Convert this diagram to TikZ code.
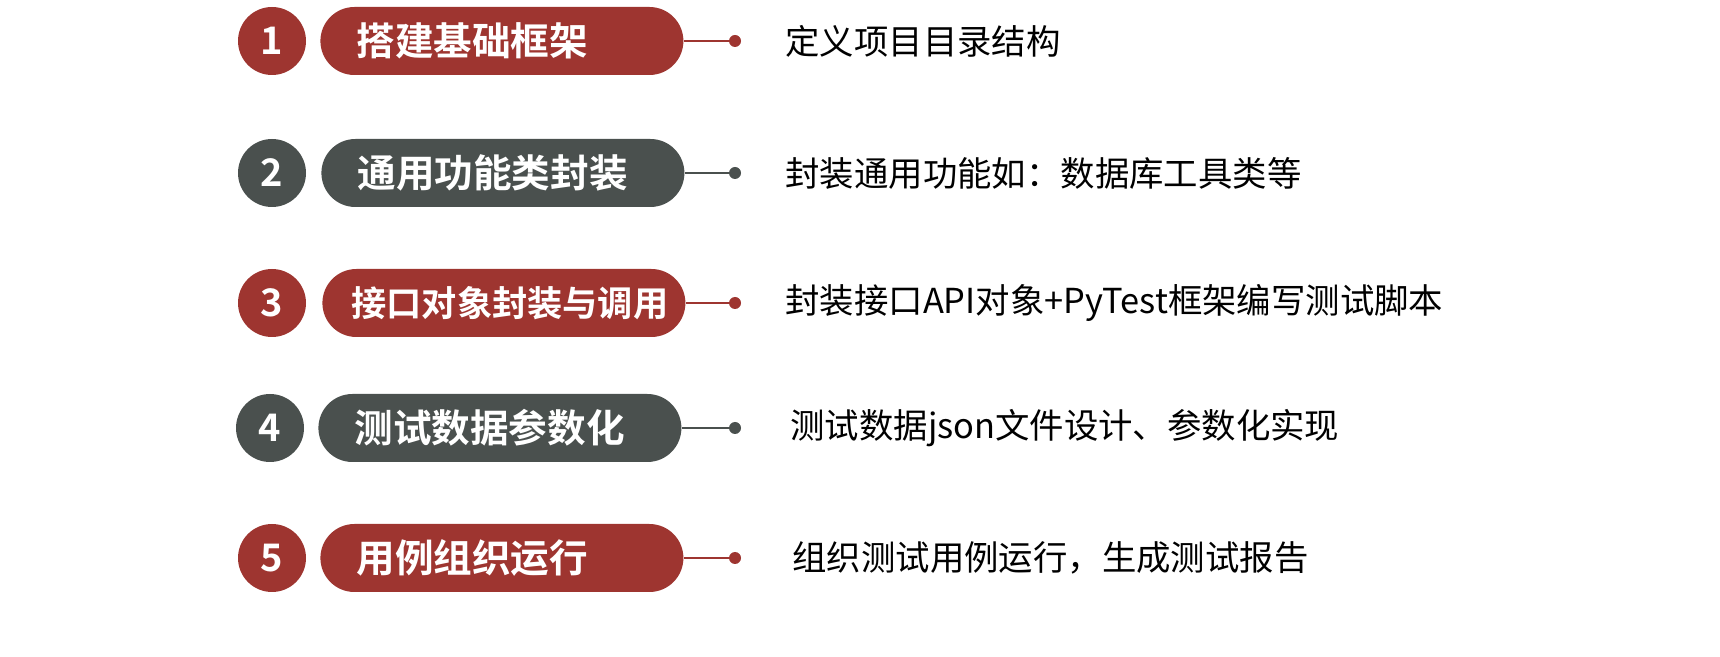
\documentclass[tikz,border=0pt]{standalone}
\usepackage{fontspec}
\setmainfont{Noto Sans CJK SC}
\newfontfamily\cjkb{Noto Sans CJK SC Bold}
\definecolor{cred}{HTML}{9E3530}
\definecolor{cgray}{HTML}{4A504E}
\begin{document}
\begin{tikzpicture}[x=0.5pt,y=-0.5pt]
\tikzset{
 numc/.style={circle,fill=#1,minimum size=34pt,inner sep=0pt,text=white,font=\cjkb\fontsize{19}{19}\selectfont},
 pill/.style={rounded corners=17pt,fill=#1,minimum width=181.5pt,minimum height=34pt,inner sep=0pt,anchor=west},
 tdot/.style={circle,fill=#1,minimum size=6pt,inner sep=0pt},
 desc/.style={anchor=west,font=\fontsize{17.2}{18}\selectfont,text=black},
}
\useasboundingbox (0,0) rectangle (1720,657);
\foreach \i/\y/\cx/\px/\c/\lab/\off/\fs/\dsx/\d in {
 1/41/272/320/cred/搭建基础框架/36/19.3/785/定义项目目录结构,
 2/173/272/321/cgray/通用功能类封装/36/19.3/785/封装通用功能如：数据库工具类等,
 3/303/272/322/cred/接口对象封装与调用/29/17.6/785/封装接口API对象+PyTest框架编写测试脚本,
 4/428/270/318/cgray/测试数据参数化/36/19.3/790/测试数据json文件设计、参数化实现,
 5/558/272/320/cred/用例组织运行/36/19.3/792/组织测试用例运行，生成测试报告}{
 \node[numc=\c] (n\i) at (\cx,\y) {\i};
 \node[pill=\c] (p\i) at (\px,\y) {};
 \node[anchor=west,text=white,inner sep=0pt,font=\cjkb\fontsize{\fs}{20}\selectfont] (pt\i) at (\px+\off,\y) {\lab};
 \node[tdot=\c] (d\i) at (735,\y) {};
 \draw[\c,line width=1pt] (p\i.east) -- (d\i);
 \node[desc,inner sep=0pt] (t\i) at (\dsx,\y) {\d};
}
\end{tikzpicture}
\end{document}
